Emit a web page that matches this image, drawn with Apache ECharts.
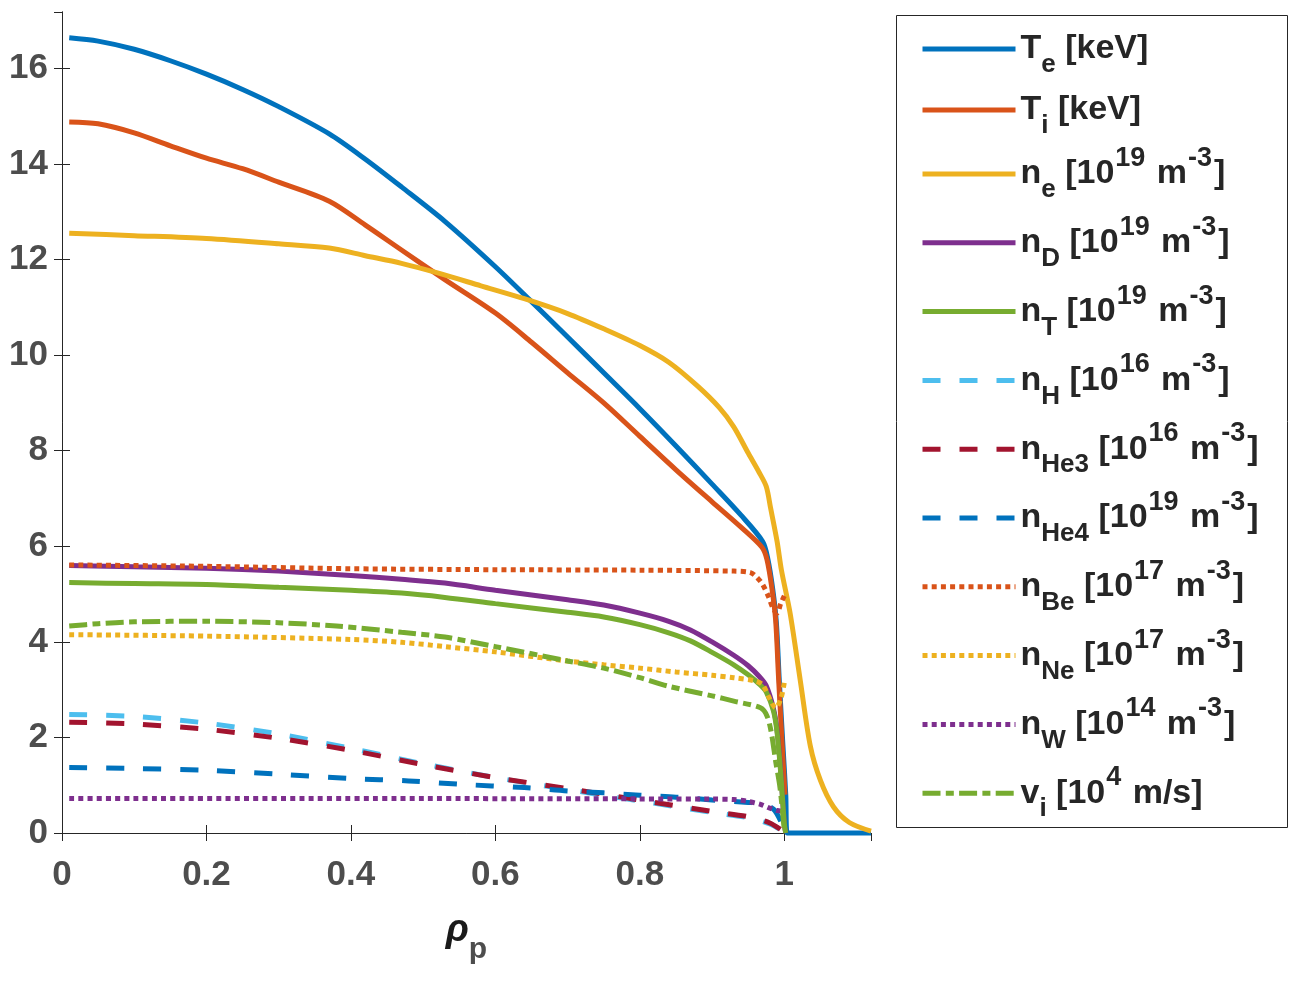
<!DOCTYPE html>
<html>
<head>
<meta charset="utf-8">
<script src="https://cdn.jsdelivr.net/npm/echarts@6/dist/echarts.min.js"></script>
<style>
  html, body { margin: 0; padding: 0; background: #fff; }
  #chart { width: 1304px; height: 983px; }
</style>
</head>
<body>
<div id="chart"></div>
<script>
// profile data, [rho_p, value]
const Te = [[0.01,16.64],[0.05,16.57],[0.1,16.4],[0.15,16.16],[0.2,15.88],[0.25,15.56],[0.3,15.2],[0.37,14.63],
  [0.42,14.1],[0.47,13.52],[0.53,12.8],[0.6,11.85],[0.65,11.12],[0.7,10.38],[0.75,9.63],[0.8,8.88],[0.85,8.1],
  [0.9,7.3],[0.94,6.65],[0.97,6.1],[0.977,5.75],[0.984,5.1],[0.989,4.4],[0.993,3.2],[0.998,1.85],[1.002,0.8],
  [1.004,0],[1.12,0]];
const Ti = [[0.01,14.88],[0.05,14.84],[0.1,14.65],[0.15,14.38],[0.2,14.12],[0.25,13.9],[0.3,13.62],[0.37,13.22],
  [0.42,12.72],[0.47,12.2],[0.53,11.58],[0.6,10.88],[0.65,10.27],[0.7,9.63],[0.75,9.0],[0.8,8.3],[0.85,7.6],
  [0.9,6.93],[0.94,6.4],[0.969,5.98],[0.976,5.72],[0.983,5.1],[0.988,4.45],[0.992,3.25],[0.997,1.85],[1.001,0.8]];
const ne = [[0.01,12.55],[0.1,12.5],[0.2,12.44],[0.3,12.33],[0.37,12.24],[0.42,12.08],[0.47,11.92],[0.52,11.72],
  [0.58,11.45],[0.64,11.18],[0.7,10.87],[0.75,10.55],[0.8,10.2],[0.84,9.85],[0.88,9.35],[0.91,8.9],[0.93,8.5],
  [0.95,7.95],[0.965,7.55],[0.975,7.25],[0.981,6.8],[0.99,6.1],[0.996,5.5],[1.008,4.6],[1.022,3.2],[1.036,1.82],
  [1.05,1.1],[1.068,0.55],[1.09,0.22],[1.12,0.04]];
const nD = [[0.01,5.6],[0.1,5.57],[0.2,5.54],[0.3,5.48],[0.4,5.39],[0.47,5.31],[0.53,5.23],[0.6,5.08],[0.7,4.88],
  [0.75,4.77],[0.8,4.6],[0.84,4.43],[0.87,4.25],[0.9,4.0],[0.93,3.72],[0.95,3.5],[0.965,3.28],[0.975,3.08],
  [0.985,2.6],[0.99,2.15],[0.995,1.3],[1.0,0.2],[1.002,0]];
const nT = [[0.01,5.24],[0.1,5.22],[0.2,5.2],[0.3,5.14],[0.4,5.08],[0.47,5.02],[0.53,4.93],[0.6,4.8],[0.7,4.62],
  [0.75,4.52],[0.8,4.36],[0.84,4.19],[0.87,4.02],[0.9,3.78],[0.93,3.52],[0.95,3.31],[0.965,3.12],[0.975,2.95],
  [0.985,2.55],[0.99,2.1],[0.995,1.25],[1.0,0.2],[1.002,0]];
const nH = [[0.01,2.48],[0.1,2.44],[0.2,2.3],[0.3,2.07],[0.4,1.77],[0.5,1.45],[0.6,1.16],[0.7,0.91],[0.8,0.67],
  [0.9,0.43],[0.95,0.32],[0.98,0.19],[1.0,0.02]];
const nHe3 = [[0.01,2.32],[0.1,2.28],[0.2,2.17],[0.3,1.98],[0.4,1.73],[0.5,1.43],[0.6,1.16],[0.7,0.93],[0.8,0.69],
  [0.9,0.45],[0.95,0.34],[0.98,0.21],[1.0,0.02]];
const nHe4 = [[0.01,1.37],[0.1,1.35],[0.2,1.31],[0.3,1.23],[0.4,1.14],[0.48,1.09],[0.55,1.02],[0.64,0.95],[0.7,0.88],
  [0.75,0.84],[0.8,0.79],[0.85,0.75],[0.9,0.69],[0.95,0.64],[0.97,0.61],[0.985,0.5],[0.995,0.25],[1.0,0.03]];
const nBe = [[0.01,5.61],[0.2,5.58],[0.4,5.53],[0.6,5.51],[0.8,5.5],[0.93,5.48],[0.953,5.45],[0.962,5.35],
  [0.97,5.2],[0.978,4.95],[0.985,4.68],[0.99,4.6],[0.995,4.8],[1.0,4.96]];
const nNe = [[0.01,4.15],[0.2,4.12],[0.4,4.05],[0.47,3.99],[0.53,3.9],[0.6,3.79],[0.7,3.6],[0.75,3.52],[0.8,3.45],
  [0.85,3.37],[0.9,3.3],[0.93,3.25],[0.96,3.18],[0.97,3.1],[0.98,2.8],[0.988,2.62],[0.995,2.8],[1.0,3.15]];
const nW = [[0.01,0.72],[0.5,0.72],[0.9,0.71],[0.93,0.7],[0.95,0.66],[0.967,0.6],[0.98,0.52],[0.99,0.47],[1.0,0.45]];
const vi = [[0.01,4.33],[0.05,4.38],[0.1,4.42],[0.2,4.43],[0.3,4.4],[0.38,4.33],[0.47,4.2],[0.53,4.1],[0.6,3.9],
  [0.7,3.6],[0.75,3.45],[0.8,3.25],[0.84,3.07],[0.9,2.87],[0.93,2.76],[0.967,2.62],[0.976,2.45],[0.982,2.1],
  [0.988,1.5],[0.994,0.95],[1.0,0.05]];

const names = ['Te', 'Ti', 'ne', 'nD', 'nT', 'nH', 'nHe3', 'nHe4', 'nBe', 'nNe', 'nW', 'vi'];
const profiles = [Te, Ti, ne, nD, nT, nH, nHe3, nHe4, nBe, nNe, nW, vi];
const legendText = [
  '{m|T}{sb|e}{m| [keV]}',
  '{m|T}{sb|i}{m| [keV]}',
  '{m|n}{sb|e}{m| [10}{sp|19}{m| m}{sp|-3}{m|]}',
  '{m|n}{sb|D}{m| [10}{sp|19}{m| m}{sp|-3}{m|]}',
  '{m|n}{sb|T}{m| [10}{sp|19}{m| m}{sp|-3}{m|]}',
  '{m|n}{sb|H}{m| [10}{sp|16}{m| m}{sp|-3}{m|]}',
  '{m|n}{sb|He3}{m| [10}{sp|16}{m| m}{sp|-3}{m|]}',
  '{m|n}{sb|He4}{m| [10}{sp|19}{m| m}{sp|-3}{m|]}',
  '{m|n}{sb|Be}{m| [10}{sp|17}{m| m}{sp|-3}{m|]}',
  '{m|n}{sb|Ne}{m| [10}{sp|17}{m| m}{sp|-3}{m|]}',
  '{m|n}{sb|W}{m| [10}{sp|14}{m| m}{sp|-3}{m|]}',
  '{m|v}{sb|i}{m| [10}{sp|4}{m| m/s]}'
];

const colors = ['#0072BD', '#D95319', '#EDB120', '#7E2F8E', '#77AC30', '#4DBEEE',
  '#A2142F', '#0072BD', '#D95319', '#EDB120', '#7E2F8E', '#77AC30'];
const DASH = [18, 19], DOT = [5, 4.2], DASHDOT = [18, 5.3, 8, 5.3];
const lineTypes = ['solid', 'solid', 'solid', 'solid', 'solid', DASH, DASH, DASH, DOT, DOT, DOT, DASHDOT];

const FONT = "'Liberation Sans', Arial, Helvetica, sans-serif";
const richLegend = {
  m: { fontSize: 34, fontWeight: 'bold', color: '#262626', fontFamily: FONT, lineHeight: 58, verticalAlign: 'middle' },
  sb: { fontSize: 26, fontWeight: 'bold', color: '#262626', fontFamily: FONT, lineHeight: 26, verticalAlign: 'bottom' },
  sp: { fontSize: 27, fontWeight: 'bold', color: '#262626', fontFamily: FONT, lineHeight: 30, verticalAlign: 'top', padding: [0, 2, 0, 1] }
};

function makeLegend(data, top, gap) {
  return {
    data: data,
    orient: 'vertical',
    left: 920,
    top: top,
    padding: 0,
    itemGap: gap,
    itemWidth: 93,
    itemHeight: 10,
    selectedMode: false,
    lineStyle: { width: 5 },
    itemStyle: { opacity: 0, borderWidth: 0 },
    formatter: function (name) { return legendText[names.indexOf(name)]; },
    textStyle: { rich: richLegend }
  };
}

const axisCommon = {
  type: 'value',
  axisLine: { show: true, lineStyle: { color: '#262626', width: 1 } },
  axisTick: { show: true, inside: true, length: 8, lineStyle: { color: '#262626', width: 1 } },
  splitLine: { show: false }
};
const labelStyle = { fontSize: 35, fontWeight: 'bold', color: '#4d4d4d', fontFamily: FONT, showMaxLabel: false };

const chart = echarts.init(document.getElementById('chart'), null, { renderer: 'canvas' });
chart.setOption({
  animation: false,
  backgroundColor: '#fff',
  grid: { left: 62, top: 12, right: 433, bottom: 150, containLabel: false },
  xAxis: [
    Object.assign({}, axisCommon, {
      position: 'bottom', min: 0, max: 1.12, interval: 0.2,
      axisLabel: Object.assign({}, labelStyle, { margin: 25 }),
      name: '{r|ρ}{s|p}',
      nameLocation: 'middle',
      nameGap: 64,
      nameTextStyle: {
        rich: {
          r: { fontSize: 38, fontWeight: 'bold', fontStyle: 'italic', color: '#1a1a1a', fontFamily: FONT, lineHeight: 68, verticalAlign: 'middle' },
          s: { fontSize: 30, fontWeight: 'bold', color: '#4d4d4d', fontFamily: FONT, lineHeight: 30, verticalAlign: 'bottom' }
        }
      }
    }),
    Object.assign({}, axisCommon, {
      position: 'top', min: 0, max: 1.12, interval: 0.2,
      axisLabel: { show: false }
    })
  ],
  yAxis: [
    Object.assign({}, axisCommon, {
      position: 'left', min: 0, max: 17.18, interval: 2,
      axisLabel: Object.assign({}, labelStyle, { margin: 14 })
    }),
    Object.assign({}, axisCommon, {
      position: 'right', min: 0, max: 17.18, interval: 2,
      axisLabel: { show: false }
    })
  ],
  graphic: [{
    type: 'rect',
    shape: { x: 896.5, y: 15.5, width: 391, height: 812 },
    style: { fill: '#fff', stroke: '#262626', lineWidth: 1 },
    z: 0
  }],
  legend: [
    makeLegend(names.slice(0, 1), 32, 0),
    makeLegend(names.slice(1, 2), 93, 0),
    makeLegend(names.slice(2), 145, 10.8)
  ],
  series: names.map(function (n, i) {
    return {
      name: n,
      type: 'line',
      data: profiles[i],
      symbol: 'none',
      clip: false,
      smooth: 0.3,
      color: colors[i],
      lineStyle: { color: colors[i], width: 5, type: lineTypes[i], cap: 'butt' },
      emphasis: { disabled: true }
    };
  })
});
</script>
</body>
</html>
